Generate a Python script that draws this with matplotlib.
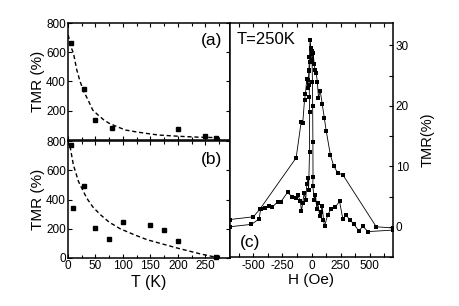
import matplotlib
matplotlib.use("Agg")
import matplotlib.pyplot as plt
from matplotlib.ticker import MultipleLocator, FixedLocator

plt.rcParams['font.family'] = ['Liberation Sans', 'DejaVu Sans']
plt.rcParams['axes.unicode_minus'] = False

# ---- data ----
# panel (a)
T_a = [5, 30, 50, 80, 200, 250, 270]
TMR_a = [660, 352, 140, 85, 75, 27, 14]
T_fit_a = [0.5, 4, 10, 16, 22, 29, 37, 45, 55, 65, 75, 90, 105, 125, 145, 165, 190, 215, 240, 255, 270]
TMR_fit_a = [718, 650, 593, 479, 400, 330, 270, 205, 170, 138, 114, 90, 68, 55, 44, 34, 28, 23, 19, 18, 16]

# panel (b)
T_b = [5, 10, 30, 50, 75, 100, 150, 175, 200, 270]
TMR_b = [775, 342, 494, 205, 130, 244, 228, 189, 114, 7]
T_fit_b = [3.7, 9.7, 19, 34, 45, 59, 75, 95, 120, 144, 170, 199, 220, 242, 270]
TMR_fit_b = [764, 638, 524, 410, 350, 296, 245, 200, 160, 125, 98, 68, 48, 27, 5]

# panel (c) : field sweeps
H_up = [-700, -516, -450, -436, -401, -364, -335, -292, -264, -206, -169, -135, -120, -97,
        -86, -75, -63, -50, -40, -30, -25, -17, -17, -18, -20, -22, -18, -12, -5, 0, 8, 15,
        22, 30, 40, 50, 60, 75, 92, 110, 126, 163, 192, 226, 269, 556, 700]
TMR_up = [0.0, 0.4, 1.3, 3.0, 3.1, 3.4, 3.3, 4.1, 4.1, 5.7, 5.0, 4.8, 5.3, 4.3,
          2.6, 4.0, 5.6, 4.5, 7.0, 8.0, 6.0, 12.4, 19.0, 21.5, 23.5, 26.0, 28.0, 30.9, 29.5, 28.5, 27.5, 28.8,
          27.0, 26.0, 25.5, 24.0, 21.3, 22.5, 20.3, 18.0, 15.9, 11.8, 10.0, 8.9, 8.6, 0.0, -0.2]
H_dn = [700, 484, 441, 407, 361, 327, 298, 269, 241, 206, 169, 140, 112, 103, 92, 80, 70, 54,
        45, 34, 25, 11, 13, 12, 10, 8, 5, 0, -5, -12, -20, -28, -32, -40, -52, -60, -75, -89,
        -132, -440, -499, -700]
TMR_dn = [-0.55, -0.8, 0.1, -0.7, 0.5, 1.2, 1.9, 1.3, 4.2, 3.3, 3.0, 2.0, 0.1, 1.2, 3.4, 2.5, 1.8, 4.0,
          3.0, 5.3, 4.5, 6.7, 8.2, 14.0, 20.0, 24.0, 27.5, 29.0, 29.4, 27.3, 25.7, 24.3, 23.0, 24.5, 22.0, 21.0, 17.2, 17.3,
          11.4, 3.0, 1.65, 1.2]

T_ticks = [0, 50, 100, 150, 200, 250]
TMR_ticks_a = [200, 400, 600, 800]
TMR_ticks_b = [0, 200, 400, 600, 800]
H_ticks = [-500, -250, 0, 250, 500]
TMRc_ticks = [0, 10, 20, 30]

W, H = 460, 306
fig = plt.figure(figsize=(W / 100, H / 100), dpi=100)

def frac(x0, y0, x1, y1):
    return [x0 / W, 1 - y1 / H, (x1 - x0) / W, (y1 - y0) / H]

axa = fig.add_axes(frac(68, 23, 230, 140))
axb = fig.add_axes(frac(68, 141, 230, 258))
axc = fig.add_axes(frac(230, 23, 393, 257))

fs_tick = 8.5
for ax in (axa, axb):
    ax.set_xlim(0, 295)
    ax.set_ylim(0, 800)
    ax.xaxis.set_major_locator(FixedLocator(T_ticks))
    ax.xaxis.set_minor_locator(MultipleLocator(25))
    ax.tick_params(which='both', direction='in', top=True, right=True, width=0.8,
                   labelsize=fs_tick, pad=1.5)
    ax.tick_params(which='major', length=3)
    ax.tick_params(which='minor', length=2)
    for s in ax.spines.values():
        s.set_linewidth(1.1)
    ax.set_ylabel('TMR (%)', fontsize=11, labelpad=1)

axa.set_yticks(TMR_ticks_a)
axa.tick_params(labelbottom=False)
axb.set_yticks(TMR_ticks_b)

axa.plot(T_fit_a, TMR_fit_a, ls=(0, (3, 2)), color='black', lw=1.0)
axa.plot(T_a, TMR_a, 's', color='black', ms=3.4)
axb.plot(T_fit_b, TMR_fit_b, ls=(0, (3, 2)), color='black', lw=1.0)
axb.plot(T_b, TMR_b, 's', color='black', ms=3.4, clip_on=False)
axb.set_xlabel('T (K)', fontsize=11.5, labelpad=2)

axa.text(0.95, 0.85, '(a)', transform=axa.transAxes, ha='right', va='center', fontsize=12.5)
axb.text(0.95, 0.84, '(b)', transform=axb.transAxes, ha='right', va='center', fontsize=12.5)

# panel (c)
axc.plot(H_up, TMR_up, '-s', color='black', lw=0.6, ms=3.0, mew=0)
axc.plot(H_dn, TMR_dn, '-s', color='black', lw=0.6, ms=3.0, mew=0)
axc.set_xlim(-700, 700)
axc.set_ylim(-5, 33.7)
axc.xaxis.set_major_locator(FixedLocator(H_ticks))
axc.xaxis.set_minor_locator(MultipleLocator(125))
axc.set_yticks(TMRc_ticks)
axc.yaxis.set_minor_locator(MultipleLocator(5))
axc.yaxis.tick_right()
axc.yaxis.set_label_position('right')
axc.tick_params(which='both', direction='in', top=True, left=False, right=True, width=0.8,
                labelsize=fs_tick, pad=2)
axc.tick_params(which='major', length=3)
axc.tick_params(which='minor', length=3)
for s in axc.spines.values():
    s.set_linewidth(1.1)
axc.set_xlabel('H (Oe)', fontsize=11, labelpad=1)
axc.set_ylabel('TMR(%)', fontsize=10.5, labelpad=8)
axc.text(0.04, 0.93, 'T=250K', transform=axc.transAxes, ha='left', va='center', fontsize=12)
axc.text(0.06, 0.06, '(c)', transform=axc.transAxes, ha='left', va='center', fontsize=12.5)

fig.savefig('out.png', dpi=100)
